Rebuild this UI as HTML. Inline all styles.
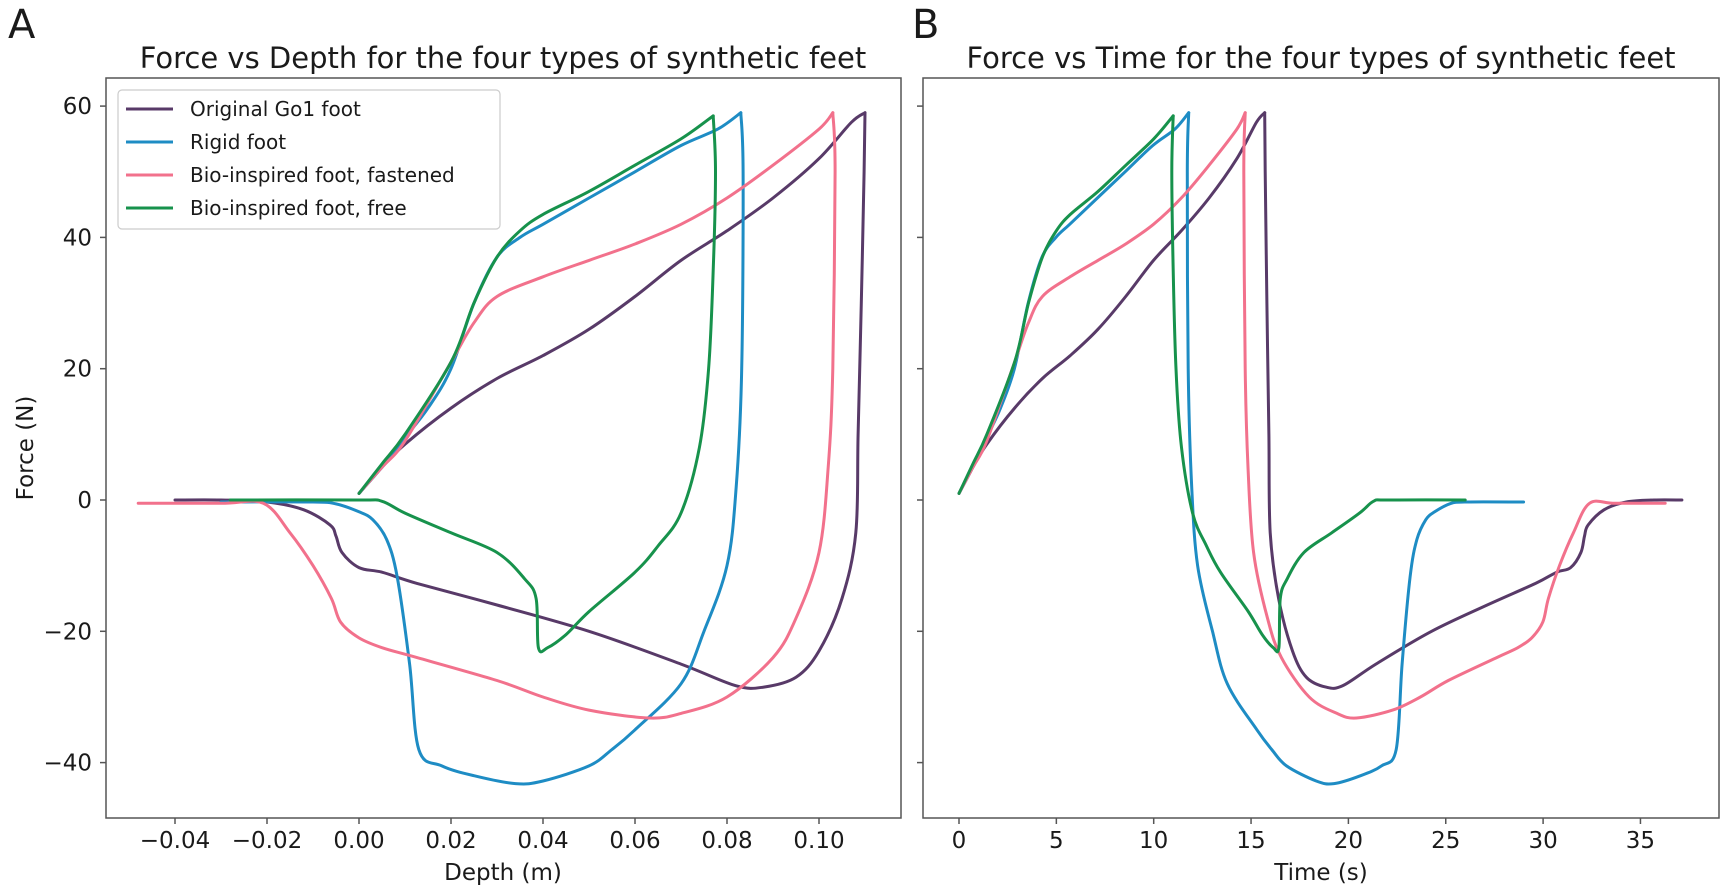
<!DOCTYPE html>
<html><head><meta charset="utf-8"><style>
body{margin:0;background:#fff}
svg text{font-family:"DejaVu Sans","Liberation Sans",sans-serif;fill:#1a1a1a}
</style></head><body>
<svg id="s" width="1725" height="891" viewBox="0 0 1725 891" xmlns="http://www.w3.org/2000/svg"></svg>
<script>
const S=document.getElementById('s');let h='';
const C={p:'#583a68',b:'#1e8cc4',k:'#f2718c',g:'#17924c'};
const yA=F=>500-F*6.565;
const xA=d=>359+d*4600, xB=t=>959+t*19.47;
const data={
p:{tp:15.7,dp:0.11,rate:0.007,load:[[0,1],[0.005,5],[0.01,8.5],[0.02,14],[0.03,18.5],[0.04,22],[0.05,26],[0.06,31],[0.07,36.5],[0.08,41],[0.09,46],[0.1,52],[0.107,57.5],[0.11,59]],
 un:[[0.11,59],[0.1098,50],[0.1092,30],[0.1085,10],[0.108,-5],[0.105,-15],[0.1,-23],[0.095,-27],[0.088,-28.5],[0.082,-28.3],[0.07,-25],[0.05,-20],[0.03,-16],[0.0126,-12.7],[0.005,-11],[0,-10.3],[-0.0037,-8],[-0.005,-5.5],[-0.0063,-3.8],[-0.012,-1.5],[-0.02,-0.3],[-0.03,0],[-0.04,0]]},
b:{tp:11.8,dp:0.083,rate:0.00657,load:[[0,1],[0.005,5],[0.01,9.5],[0.015,14],[0.02,20],[0.025,30],[0.03,37],[0.035,40],[0.04,42],[0.05,46],[0.06,50],[0.07,54],[0.078,56.5],[0.083,59]],
 un:[[0.083,59],[0.0835,50],[0.0832,20],[0.082,2],[0.08,-10],[0.075,-20],[0.07,-28],[0.06,-35],[0.055,-38],[0.05,-40.5],[0.04,-42.8],[0.034,-43.2],[0.025,-42],[0.018,-40.5],[0.013,-38],[0.011,-25],[0.0083,-11.7],[0.006,-6],[0.003,-3],[0,-1.8],[-0.005,-0.6],[-0.01,-0.3],[-0.03,-0.3]]},
k:{tp:14.7,dp:0.103,rate:0.007,load:[[0,1],[0.005,5],[0.01,9],[0.02,21],[0.025,27],[0.03,31],[0.04,34],[0.05,36.5],[0.06,39],[0.07,42],[0.08,46],[0.09,51],[0.1,56.5],[0.103,59]],
 un:[[0.103,59],[0.1035,50],[0.103,20],[0.102,5],[0.1,-8],[0.095,-18],[0.09,-24],[0.08,-30],[0.07,-32.5],[0.063,-33.2],[0.05,-32],[0.04,-30],[0.03,-27.5],[0.0126,-24],[0.005,-22.5],[0,-21],[-0.004,-18.6],[-0.006,-15],[-0.01,-10],[-0.015,-5],[-0.0208,-0.5],[-0.03,-0.5],[-0.048,-0.5]]},
g:{tp:11,dp:0.077,rate:0.007,load:[[0,1],[0.005,5.5],[0.01,10],[0.02,21],[0.025,30],[0.03,37],[0.035,41],[0.04,43.5],[0.05,47],[0.06,51],[0.07,55],[0.077,58.5]],
 un:[[0.077,58.5],[0.0775,50],[0.077,35],[0.076,20],[0.074,8],[0.07,-2],[0.065,-7],[0.06,-11],[0.05,-17],[0.045,-20.5],[0.041,-22.5],[0.039,-22.5],[0.0385,-15],[0.036,-12],[0.03,-8],[0.02,-5],[0.01,-2],[0.005,-0.2],[0,0],[-0.028,0]]}
};
function path(P,col){let d='M'+P[0][0].toFixed(1)+','+P[0][1].toFixed(1);
 for(let i=0;i<P.length-1;i++){const p0=P[Math.max(0,i-1)],p1=P[i],p2=P[i+1],p3=P[Math.min(P.length-1,i+2)];
  const c1=[p1[0]+(p2[0]-p0[0])/6,p1[1]+(p2[1]-p0[1])/6],c2=[p2[0]-(p3[0]-p1[0])/6,p2[1]-(p3[1]-p1[1])/6];
  d+=`C${c1[0].toFixed(1)},${c1[1].toFixed(1)} ${c2[0].toFixed(1)},${c2[1].toFixed(1)} ${p2[0].toFixed(1)},${p2[1].toFixed(1)}`;}
 return `<path d="${d}" fill="none" stroke="${col}" stroke-width="3" stroke-linejoin="round" stroke-linecap="round"/>`;}
function axes(x0,x1,title,xl,xt,xfn,cx){
 h+=`<rect x="${x0}" y="78" width="${x1-x0}" height="740" fill="none" stroke="#555" stroke-width="1.5"/>`;
 h+=`<text x="${cx}" y="68" font-size="29" text-anchor="middle">${title}</text>`;
 [60,40,20,0,-20,-40].forEach(v=>{const y=yA(v);h+=`<line x1="${x0-6}" y1="${y}" x2="${x0}" y2="${y}" stroke="#555" stroke-width="1.5"/>`;});
 xt.forEach(([v,l])=>{const x=xfn(v);h+=`<line x1="${x}" y1="818" x2="${x}" y2="824" stroke="#555" stroke-width="1.5"/><text x="${x}" y="848" font-size="23" text-anchor="middle">${l}</text>`;});
 h+=`<text x="${cx}" y="880" font-size="23" text-anchor="middle">${xl}</text>`;
}
axes(106,901,'Force vs Depth for the four types of synthetic feet','Depth (m)',[[-0.04,'−0.04'],[-0.02,'−0.02'],[0,'0.00'],[0.02,'0.02'],[0.04,'0.04'],[0.06,'0.06'],[0.08,'0.08'],[0.1,'0.10']],xA,503);
axes(923,1719,'Force vs Time for the four types of synthetic feet','Time (s)',[[0,'0'],[5,'5'],[10,'10'],[15,'15'],[20,'20'],[25,'25'],[30,'30'],[35,'35']],xB,1321);
[60,40,20,0,-20,-40].forEach(v=>{h+=`<text x="92" y="${yA(v)+8}" font-size="23" text-anchor="end">${v<0?'−'+(-v):v}</text>`;});
h+=`<text transform="translate(33,448) rotate(-90)" font-size="23" text-anchor="middle">Force (N)</text>`;
h+=`<text x="8" y="38" font-size="40">A</text><text x="912" y="38" font-size="40">B</text>`;
['p','b','k','g'].forEach(k=>{const D=data[k];
 h+=path(D.load.map(p=>[xA(p[0]),yA(p[1])]),C[k]);
 h+=path(D.un.map(p=>[xA(p[0]),yA(p[1])]),C[k]);
 h+=path(D.load.map(p=>[xB(p[0]*D.tp/D.dp),yA(p[1])]),C[k]);
 h+=path(D.un.map(p=>[xB(D.tp+(D.dp-p[0])/D.rate),yA(p[1])]),C[k]);});
h+=`<rect x="118" y="90" width="382" height="139" rx="4" fill="#fff" fill-opacity="0.85" stroke="#ccc" stroke-width="1.2"/>`;
[['p','Original Go1 foot'],['b','Rigid foot'],['k','Bio-inspired foot, fastened'],['g','Bio-inspired foot, free']].forEach(([k,l],i)=>{const y=109+i*33;
 h+=`<line x1="126" y1="${y}" x2="173" y2="${y}" stroke="${C[k]}" stroke-width="3"/><text x="190" y="${y+7}" font-size="20">${l}</text>`;});
S.innerHTML=h;
</script>
</body></html>
